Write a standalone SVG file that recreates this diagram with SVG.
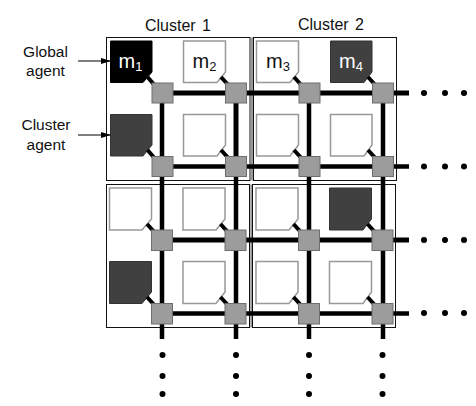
<svg xmlns="http://www.w3.org/2000/svg" width="476" height="406" viewBox="0 0 476 406">
<defs>
<style>
text{font-family:"Liberation Sans",Arial,sans-serif;fill:#111}
.lb{font-size:15.5px;text-anchor:middle}
.cl{font-size:16px;word-spacing:2px;text-anchor:middle}
.m{font-size:20px}
.s{font-size:13px}
.box{fill:#fff;stroke:#111;stroke-width:1}
.gl{fill:none;stroke:#999;stroke-width:1}
.n{stroke:#999;stroke-width:1.5;fill:#fff}
.k{fill:#000;stroke:#000;stroke-width:1}
.d{fill:#404040;stroke:#333;stroke-width:1}
.r{fill:#9c9c9c;stroke:#6e6e6e;stroke-width:1}
.t{stroke:#000;stroke-linecap:butt;fill:none}
.dot{fill:#000}
</style>
<marker id="a" markerWidth="10" markerHeight="6" refX="9" refY="3" orient="auto" markerUnits="userSpaceOnUse"><path d="M0 0L10 3L0 6Z" fill="#000"/></marker>
</defs>
<rect width="476" height="406" fill="#fff"/>
<g id="clusters">
<rect class="gl" x="251.500" y="38" width="1" height="142"/>
<rect class="gl" x="250.800" y="185" width="1" height="142"/>
<rect class="box" x="106.500" y="37.500" width="143.500" height="143"/>
<rect class="box" x="253.500" y="37.500" width="143" height="143"/>
<rect class="box" x="106.500" y="184.500" width="143" height="143"/>
<rect class="box" x="252.500" y="184.500" width="143" height="143"/>
</g>
<g id="node-m1"><path class="k" d="M110.500 41H152V72L143 82.500H110.500Z"/><text class="m" x="118.500" y="68" style="fill:#fff">m<tspan class="s" dy="3" style="fill:#fff">1</tspan></text></g>
<g id="node-m2"><path class="n" d="M183.500 41H225.500V72L217 82.500H183.500Z"/><text class="m" x="192.500" y="68">m<tspan class="s" dy="3">2</tspan></text></g>
<g id="node-m3"><path class="n" d="M256.500 41H298.500V72L290 82.500H256.500Z"/><text class="m" x="266" y="68">m<tspan class="s" dy="3">3</tspan></text></g>
<g id="node-m4"><path class="d" d="M330.500 41H372V72L364 82.500H330.500Z"/><text class="m" x="339" y="68" style="fill:#fff">m<tspan class="s" dy="3" style="fill:#fff">4</tspan></text></g>
<g id="node-r2c1"><path class="d" d="M110.500 114.500H152V145L143 156H110.500Z"/></g>
<g id="node-r2c2"><path class="n" d="M183.500 114.500H225.500V145L217 156H183.500Z"/></g>
<g id="node-r2c3"><path class="n" d="M256.500 114.500H298.500V145L290 156H256.500Z"/></g>
<g id="node-r2c4"><path class="n" d="M330.500 114.500H372V145L364 156H330.500Z"/></g>
<g id="node-r3c1"><path class="n" d="M109.500 188H151.500V219L142 230H109.500Z"/></g>
<g id="node-r3c2"><path class="n" d="M183 188H225V219L216 230H183Z"/></g>
<g id="node-r3c3"><path class="n" d="M256 188H298V219L289 230H256Z"/></g>
<g id="node-r3c4"><path class="d" d="M329.500 188H371.500V219L363 230H329.500Z"/></g>
<g id="node-r4c1"><path class="d" d="M109.500 261.500H151.500V292L142 303.500H109.500Z"/></g>
<g id="node-r4c2"><path class="n" d="M183 261.500H225V292L216 303.500H183Z"/></g>
<g id="node-r4c3"><path class="n" d="M256 261.500H298V292L289 303.500H256Z"/></g>
<g id="node-r4c4"><path class="n" d="M329.500 261.500H371.500V292L363 303.500H329.500Z"/></g>
<g id="connectors">
<g class="t" stroke-width="5">
<path d="M162 93H409"/><path d="M162 240H409"/>
<path d="M236 93V166"/>
</g>
<g class="t" stroke-width="4.500">
<path d="M162 166.500H409"/><path d="M162 313.500H409"/>
<path d="M162 93V339"/><path d="M236 166V339"/><path d="M309 93V339"/><path d="M383 93V339"/>
</g>
<g class="t" stroke-width="4">
<path d="M147.500 77L157 88"/><path d="M221 77L231 88"/><path d="M294 77L304 88"/><path d="M368 77L378 88"/>
<path d="M147.500 150L157 161"/><path d="M221 150L231 161"/><path d="M294 150L304 161"/><path d="M368 150L378 161"/>
<path d="M147 224L157 235"/><path d="M220.500 224L230.500 235"/><path d="M293.500 224L303.500 235"/><path d="M367.500 224L377.500 235"/>
<path d="M147 297L157 308"/><path d="M220.500 297L230.500 308"/><path d="M293.500 297L303.500 308"/><path d="M367.500 297L377.500 308"/>
</g>
<path d="M78 61H110" stroke="#000" stroke-width="1" marker-end="url(#a)"/>
<path d="M78 135H110" stroke="#000" stroke-width="1" marker-end="url(#a)"/>
</g>
<g id="dots" class="dot">
<circle cx="424" cy="93" r="3"/><circle cx="445" cy="93" r="3"/><circle cx="464" cy="93" r="3"/>
<circle cx="424" cy="166.500" r="3"/><circle cx="445" cy="166.500" r="3"/><circle cx="464" cy="166.500" r="3"/>
<circle cx="424" cy="240" r="3"/><circle cx="445" cy="240" r="3"/><circle cx="464" cy="240" r="3"/>
<circle cx="424" cy="313" r="3"/><circle cx="445" cy="313" r="3"/><circle cx="464" cy="313" r="3"/>
<circle cx="162.500" cy="355" r="3"/><circle cx="162.500" cy="376" r="3"/><circle cx="162.500" cy="394" r="3"/>
<circle cx="236" cy="355" r="3"/><circle cx="236" cy="376" r="3"/><circle cx="236" cy="394" r="3"/>
<circle cx="309" cy="355" r="3"/><circle cx="309" cy="376" r="3"/><circle cx="309" cy="394" r="3"/>
<circle cx="382.500" cy="355" r="3"/><circle cx="382.500" cy="376" r="3"/><circle cx="382.500" cy="394" r="3"/>
</g>
<g id="routers">
<rect class="r" x="152" y="83" width="21" height="20"/><rect class="r" x="225.500" y="83" width="21" height="20"/><rect class="r" x="299" y="83" width="21" height="20"/><rect class="r" x="372.500" y="83" width="21" height="20"/>
<rect class="r" x="152" y="156.500" width="21" height="20"/><rect class="r" x="225.500" y="156.500" width="21" height="20"/><rect class="r" x="299" y="156.500" width="21" height="20"/><rect class="r" x="372.500" y="156.500" width="21" height="20"/>
<rect class="r" x="151.500" y="230" width="21" height="20.500"/><rect class="r" x="225" y="230" width="21" height="20.500"/><rect class="r" x="298.500" y="230" width="21" height="20.500"/><rect class="r" x="372" y="230" width="21" height="20.500"/>
<rect class="r" x="151.500" y="303.500" width="21" height="20.500"/><rect class="r" x="225" y="303.500" width="21" height="20.500"/><rect class="r" x="298.500" y="303.500" width="21" height="20.500"/><rect class="r" x="372" y="303.500" width="21" height="20.500"/>
</g>
<g id="labels">
<text class="cl" x="178" y="31">Cluster 1</text>
<text class="cl" x="331" y="30">Cluster 2</text>
<text class="lb" x="45.500" y="57">Global</text>
<text class="lb" x="45.500" y="76">agent</text>
<text class="lb" x="46" y="130">Cluster</text>
<text class="lb" x="46" y="150">agent</text>
</g>
</svg>
